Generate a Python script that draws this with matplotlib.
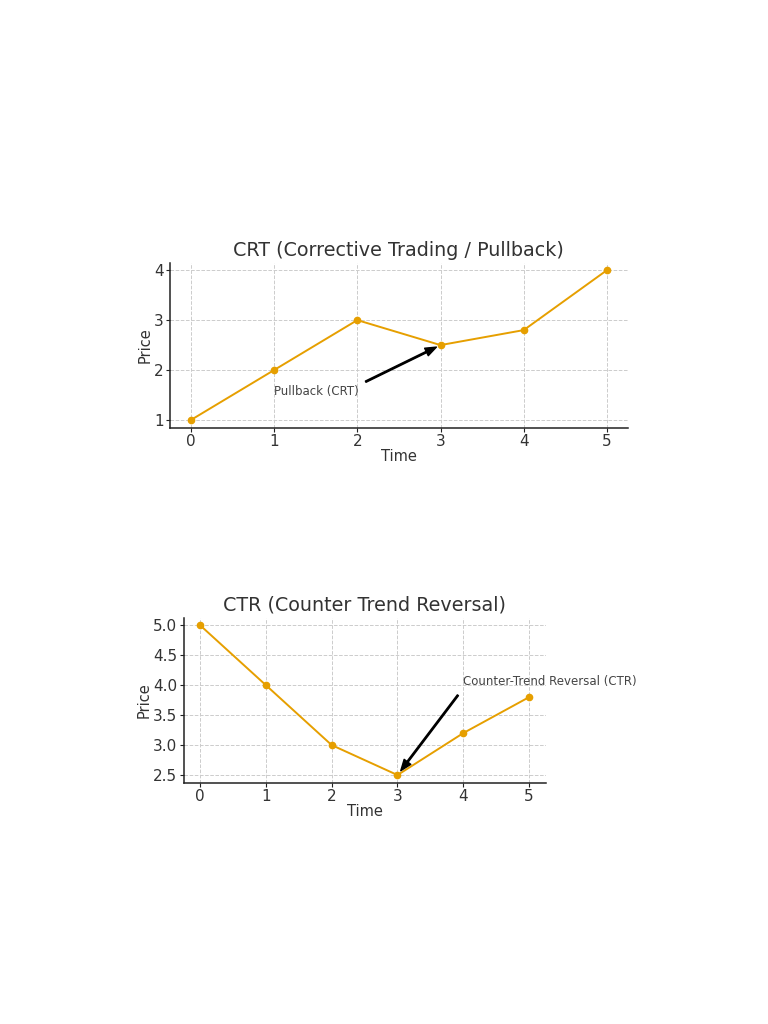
import matplotlib
matplotlib.use("Agg")
import matplotlib.pyplot as plt

# data
time = [0, 1, 2, 3, 4, 5]
crt_price = [1, 2, 3, 2.5, 2.8, 4]
ctr_price = [5, 4, 3, 2.5, 3.2, 3.8]

line_color = "#E69F00"
text_color = "#333333"

fig = plt.figure(figsize=(7.68, 10.24), dpi=100)
fig.patch.set_facecolor("white")


def style(ax):
    for s in ["top", "right"]:
        ax.spines[s].set_visible(False)
    for s in ["left", "bottom"]:
        ax.spines[s].set_color("#222222")
        ax.spines[s].set_linewidth(1.1)
    ax.grid(True, linestyle="--", color="#cccccc", linewidth=0.7)
    ax.set_axisbelow(True)
    ax.tick_params(labelsize=11, length=3, pad=1.5, colors="#222222", labelcolor=text_color)
    ax.set_xticks(time)


# 上图 CRT
ax1 = fig.add_axes([0.2214, 0.5825, 0.596, 0.161])
ax1.plot(time, crt_price, marker="o", color=line_color, markersize=4.5, linewidth=1.4)
ax1.set_title("CRT (Corrective Trading / Pullback)", fontsize=13.8, color=text_color, pad=5)
ax1.set_xlabel("Time", fontsize=10.5, color=text_color, labelpad=0)
ax1.set_ylabel("Price", fontsize=10.5, color=text_color, labelpad=1)
ax1.set_yticks([1, 2, 3, 4])
style(ax1)
ax1.annotate("Pullback (CRT)", xy=(3, 2.5), xytext=(1, 1.5), fontsize=8.5, color="#444444",
             arrowprops=dict(facecolor="black", edgecolor="black", shrink=0.05,
                             width=1.0, headwidth=6, headlength=8))

# 下图 CTR
ax2 = fig.add_axes([0.239, 0.2358, 0.4714, 0.161])
ax2.plot(time, ctr_price, marker="o", color=line_color, markersize=4.5, linewidth=1.4)
ax2.set_title("CTR (Counter Trend Reversal)", fontsize=13.8, color=text_color, pad=5)
ax2.set_xlabel("Time", fontsize=10.5, color=text_color, labelpad=0)
ax2.set_ylabel("Price", fontsize=10.5, color=text_color, labelpad=1)
ax2.set_yticks([2.5, 3.0, 3.5, 4.0, 4.5, 5.0])
style(ax2)
ax2.annotate("Counter-Trend Reversal (CTR)", xy=(3, 2.5), xytext=(4, 4), fontsize=8.5, color="#444444",
             annotation_clip=False,
             arrowprops=dict(facecolor="black", edgecolor="black", shrink=0.05,
                             width=1.0, headwidth=6, headlength=8))

fig.savefig("out.png", dpi=100, facecolor="white")
